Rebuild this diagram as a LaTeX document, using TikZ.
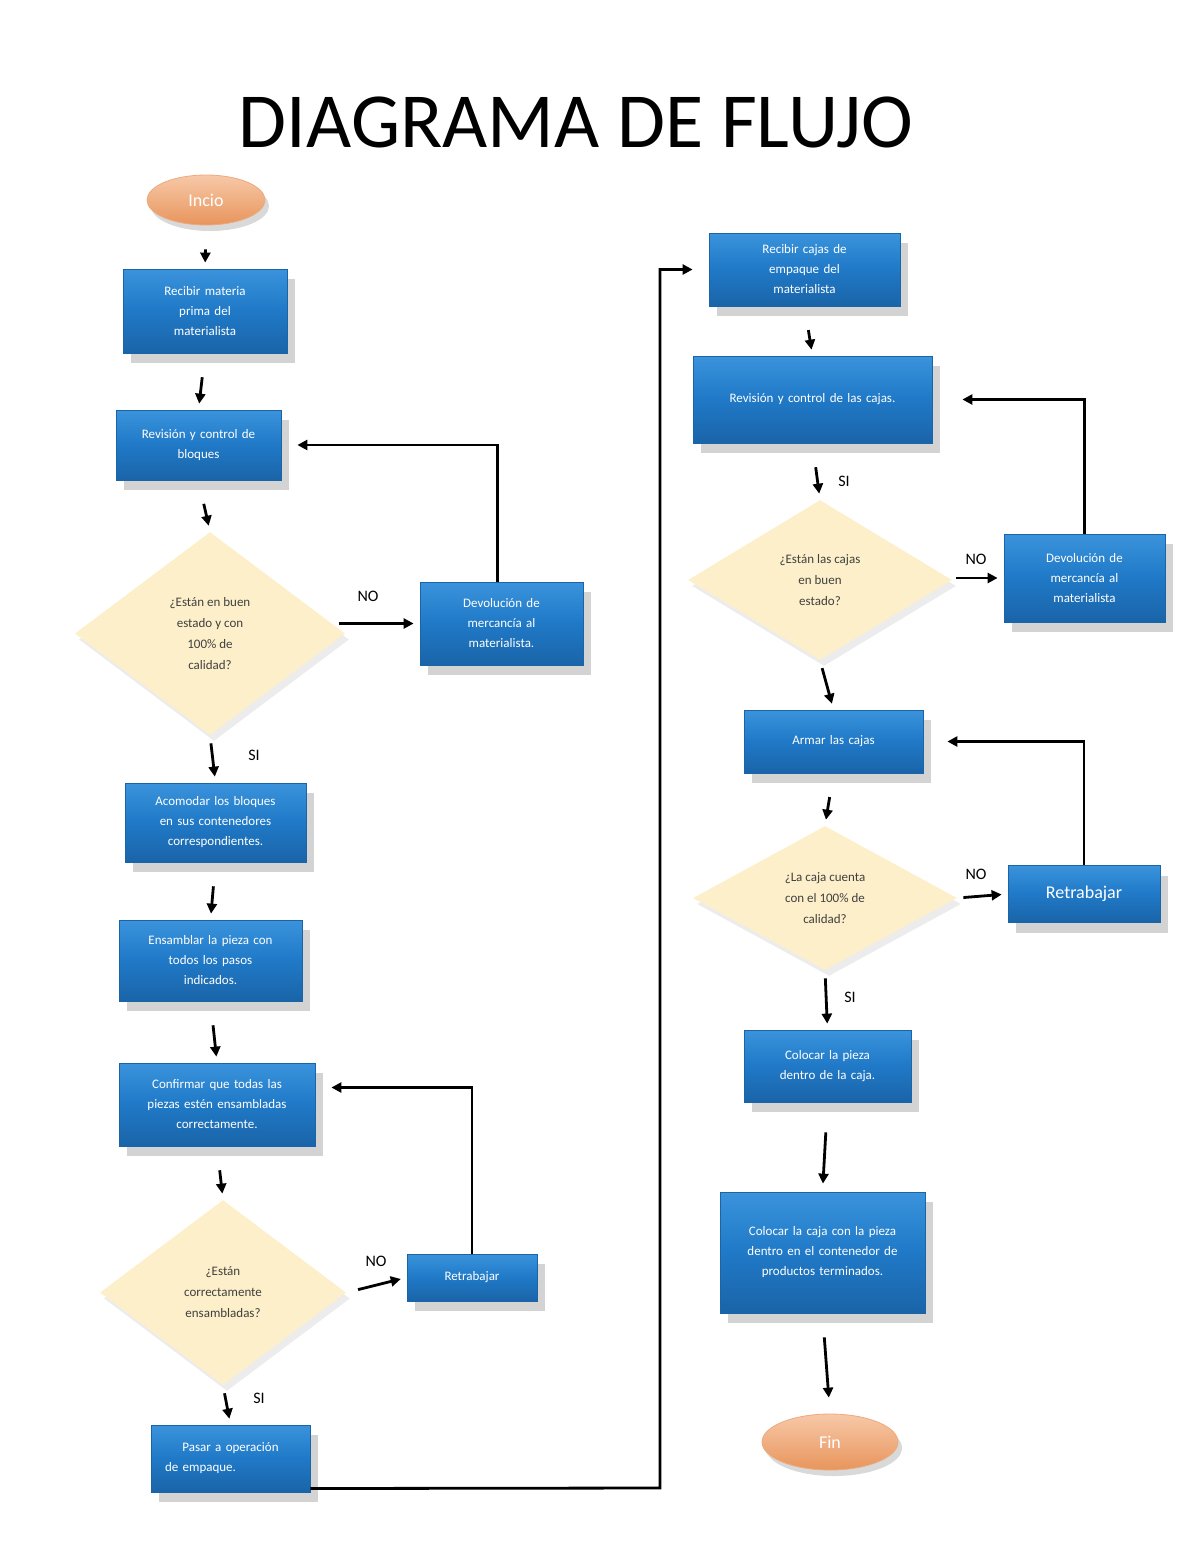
\documentclass[tikz,border=0pt]{standalone}
\usepackage{fontspec}
\setmainfont{Carlito}
\usetikzlibrary{shapes.geometric,shadows,arrows.meta}
\definecolor{bx}{HTML}{2079C7}
\definecolor{bxd}{HTML}{1A64A8}
\definecolor{bxl}{HTML}{3A93DB}
\definecolor{cream}{HTML}{FCEFC9}
\definecolor{oran}{HTML}{F4B183}
\definecolor{orand}{HTML}{E8955C}
\begin{document}
\begin{tikzpicture}[x=0.5pt,y=-0.5pt,
 box/.style={draw=bxd,line width=0.4pt,top color=bxl,bottom color=bxd,middle color=bx,text=white,font=\fontsize{6.5}{10}\selectfont,align=center,inner sep=2pt,drop shadow={opacity=0.35,shadow xshift=4pt,shadow yshift=-5pt}},
 dia/.style={diamond,fill=cream,inner sep=0pt,font=\fontsize{6.5}{10.5}\selectfont,text=black!75,align=center,drop shadow={opacity=0.15,shadow xshift=2pt,shadow yshift=-3pt}},
 ell/.style={ellipse,top color=oran!70,bottom color=orand,draw=orand!80,line width=0.4pt,text=white,inner sep=0pt,drop shadow={opacity=0.3,shadow xshift=2pt,shadow yshift=-3pt}},
 ar/.style={-{Triangle[length=5pt,width=5pt]},line width=1.4pt,shorten <=12pt,shorten >=3pt},
 lp/.style={-{Triangle[length=5pt,width=5pt]},line width=1.4pt,shorten >=8pt},
 lb/.style={font=\fontsize{8}{9}\selectfont}]
\useasboundingbox (0,0) rectangle (1200,1553);
\node at (576,122) {\fontsize{39}{40}\selectfont DIAGRAMA DE FLUJO};
\newcommand{\bx}[6]{\node[box,minimum width={(#4-#2)*0.5pt},minimum height={(#5-#3)*0.5pt},text width={(#4-#2)*0.5pt-8pt}] (#1) at ({(#2+#4)/2},{(#3+#5)/2}) {#6};}
\newcommand{\dm}[6]{\pgfmathsetmacro\myasp{(#4-#2)/(#5-#3)}\node[dia,minimum width={(#4-#2)*0.5pt},minimum height={(#5-#3)*0.5pt},aspect=\myasp] (#1) at ({(#2+#4)/2},{(#3+#5)/2}) {#6};}
\node[ell,minimum width=59pt,minimum height=25pt,font=\fontsize{9}{10}\selectfont] (ini) at (206,200) {Incio};
\bx{b1}{123}{269}{287}{353}{Recibir materia\\prima del\\materialista}
\bx{b2}{116}{410}{281}{480}{Revisión y control de\\bloques}
\dm{d1}{75}{532}{345}{735}{¿Están en buen\\estado y con\\100\% de\\calidad?}
\bx{b3}{420}{582}{583}{665}{Devolución de\\mercancía al\\materialista.}
\bx{b4}{125}{783}{306}{862}{Acomodar los bloques\\en sus contenedores\\correspondientes.}
\bx{b5}{119}{920}{302}{1001}{Ensamblar la pieza con\\todos los pasos\\indicados.}
\bx{b6}{119}{1063}{315}{1146}{Confirmar que todas las\\piezas estén ensambladas\\correctamente.}
\dm{d2}{100}{1200}{346}{1385}{¿Están\\correctamente\\ensambladas?}
\bx{b7}{407}{1254}{537}{1301}{Retrabajar}
\bx{b8}{151}{1425}{310}{1492}{Pasar a operación\\de empaque.\hspace*{30pt}}
\bx{r1}{709}{233}{900}{306}{Recibir cajas de\\empaque del\\materialista}
\bx{r2}{693}{356}{932}{443}{Revisión y control de las cajas.}
\dm{d3}{688}{500}{952}{660}{¿Están las cajas\\en buen\\estado?}
\bx{r3}{1004}{534}{1165}{622}{Devolución de\\mercancía al\\materialista}
\bx{r4}{744}{710}{923}{773}{Armar las cajas}
\dm{d4}{693}{826}{957}{970}{¿La caja cuenta\\con el 100\% de\\calidad?}
\node[box,minimum width=76pt,minimum height=28.5pt,font=\fontsize{9}{10}\selectfont] (r5) at (1084,894) {Retrabajar};
\bx{r6}{744}{1030}{911}{1102}{Colocar la pieza\\dentro de la caja.}
\bx{r7}{720}{1192}{925}{1313}{Colocar la caja con la pieza\\dentro en el contenedor de\\productos terminados.}
\node[ell,minimum width=68pt,minimum height=28pt,font=\fontsize{9}{10}\selectfont] (fin) at (830,1442) {Fin};
% vertical flow
\draw[ar] (ini.south) -- (b1.north);
\draw[ar] (b1.south) -- (b2.north);
\draw[ar] (b2.south) -- (d1.north);
\draw[ar,shorten <=4pt] (d1.south) -- (b4.north);
\draw[ar] (b4.south) -- (b5.north);
\draw[ar] (b5.south) -- (b6.north);
\draw[ar] (b6.south) -- (d2.north);
\draw[ar,shorten <=4pt] (d2.south) -- (b8.north);
\draw[ar] (r1.south) -- (r2.north);
\draw[ar] (r2.south) -- (d3.north);
\draw[ar,shorten <=4pt] (d3.south) -- (r4.north);
\draw[ar] (r4.south) -- (d4.north);
\draw[ar,shorten <=4pt] (d4.south) -- (r6.north);
\draw[ar,shorten <=15pt,shorten >=4pt] (r6.south) -- (r7.north);
\draw[ar,shorten >=8pt] (r7.south) -- (fin.north);
% NO branches
\draw[ar,shorten <=0pt] ([xshift=-3pt]d1.east |- b3.west) -- (b3.west);
\draw[ar,shorten <=6pt] (d2.east) -- (b7.west);
\draw[ar,shorten <=2pt] (d3.east |- r3.west) -- (r3.west);
\draw[ar,shorten <=3pt] (d4.east) -- (r5.west);
% loops
\draw[lp] ([xshift=-2pt]b3.north) |- (b2.east);
\draw[lp] (b7.north) |- ([yshift=8.5pt]b6.east);
\coordinate (k) at (660,1488);
\draw[lp] ([yshift=-15pt]b8.east) -- (k) |- (r1.west);
\draw[lp,shorten >=15pt] (r3.north) |- (r2.east);
\draw[lp,shorten >=12pt] (r5.north) |- (r4.east);
% labels
\node[lb] (n1) at (368,596) {NO};
\node[lb] (s1) at (254,755) {SI};
\node[lb] (n2) at (376,1261) {NO};
\node[lb] (s2) at (259,1398) {SI};
\node[lb] (s3) at (844,481) {SI};
\node[lb] (n3) at (976,559) {NO};
\node[lb] (n4) at (976,874) {NO};
\node[lb] (s4) at (850,997) {SI};
\end{tikzpicture}
\end{document}
